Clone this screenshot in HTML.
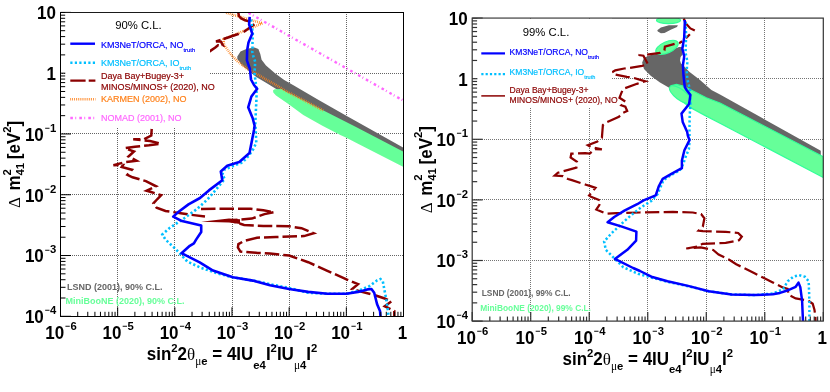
<!DOCTYPE html>
<html lang="en"><head><meta charset="utf-8"><title>Sterile neutrino sensitivity</title>
<style>html,body{margin:0;padding:0;background:#fff}body{width:830px;height:392px;overflow:hidden}svg{display:block}svg text{font-family:"Liberation Sans",sans-serif}</style></head><body>
<svg width="830" height="392" viewBox="0 0 830 392">
<rect x="0" y="0" width="830" height="392" fill="#fff"/>
<defs>
<clipPath id="cl"><rect x="60.5" y="12.4" width="343.0" height="303.90000000000003"/></clipPath>
<clipPath id="cr"><rect x="472.2" y="18.1" width="351.09999999999997" height="303.0"/></clipPath>
</defs>
<g id="left">
<g stroke="#646464" stroke-width="1" stroke-dasharray="1 1" fill="none" shape-rendering="crispEdges"><line x1="117.50" y1="12" x2="117.50" y2="316.3"/><line x1="174.50" y1="12" x2="174.50" y2="316.3"/><line x1="232.50" y1="12" x2="232.50" y2="316.3"/><line x1="289.50" y1="12" x2="289.50" y2="316.3"/><line x1="346.50" y1="12" x2="346.50" y2="316.3"/><line x1="60" y1="73.50" x2="403.5" y2="73.50"/><line x1="60" y1="133.50" x2="403.5" y2="133.50"/><line x1="60" y1="194.50" x2="403.5" y2="194.50"/><line x1="60" y1="255.50" x2="403.5" y2="255.50"/></g>
<g clip-path="url(#cl)">
<path d="M237.3 56.6 L240.5 51.5 L246.9 48.7 L254.5 47.4 L258.4 48.9 L260.3 54.0 L261.6 59.8 L266.0 65.5 L275.0 73.2 L284.2 80.0 L293.0 85.0 L318.2 99.7 L345.0 115.0 L403.5 147.8 L403.5 154.0 L360.0 130.0 L323.8 113.0 L290.0 97.0 L276.2 89.1 L266.0 82.7 L257.1 77.6 L248.2 70.6 L241.8 64.9 L237.3 59.1Z" fill="#666666"/>
<path d="M273.0 90.6 L274.6 89.2 L281.6 89.0 L285.5 91.3 L293.0 95.1 L323.0 110.3 L357.0 127.5 L403.5 151.8 L403.5 167.1 L357.0 143.3 L345.9 137.5 L340.3 134.9 L322.4 125.8 L303.3 115.0 L288.0 103.8 L276.0 95.5 L273.3 92.5Z" fill="#66ff99"/>
<path d="M226.1 12.8 L262.5 23.3 L223.6 39.2 L224.0 45.0 L231.6 55.3 L237.3 61.0 L246.9 68.7 L253.3 71.9 L266.0 79.5 L278.8 86.6 L285.5 90.8 L323.1 110.4" fill="none" stroke="#ff8019" stroke-width="2.6" stroke-dasharray="0.8 1.1"/>
<path d="M248.5 12.8 L403.5 100.7" fill="none" stroke="#ff66ff" stroke-width="2.4" stroke-dasharray="2.6 2.4 0.9 3.1"/>
<path d="M238.3 12.8 L239.0 16.0 L240.8 18.2 L245.0 20.3 L249.1 21.4 L254.5 24.2 L243.4 32.2 L238.3 34.0 L223.0 39.2 L216.0 41.4 L221.0 41.6 L223.0 45.6 L218.0 45.2 L215.3 47.5 L209.6 51.4 L200.0 58.0" fill="none" stroke="#8b0000" stroke-width="2.5" stroke-dasharray="15 6.2 13.3 5.2 16.2 3 14.5 4" stroke-linejoin="miter" stroke-miterlimit="4"/>
<path d="M151.9 127.5 L151.7 129.0 L151.3 135.5 L144.0 139.3 L133.2 139.3 L150.0 141.0 L160.6 143.6 L149.0 145.2 L135.0 146.8 L125.0 148.2 L134.0 151.5 L128.5 156.5 L136.4 160.7 L130.6 161.4 L125.5 162.0 L113.4 165.2 L123.0 165.0 L121.7 167.0 L131.9 169.7 L127.4 174.8 L132.5 177.3 L145.9 181.1 L156.1 186.3 L146.6 190.7 L151.0 192.0 L161.2 195.2 L157.4 199.0 L153.4 203.3 L156.6 207.8 L165.5 211.0 L180.8 213.2 L191.0 214.8 L205.0 216.5" fill="none" stroke="#8b0000" stroke-width="2.5" stroke-dasharray="14.5 4" stroke-dashoffset="-1.5" stroke-linejoin="miter" stroke-miterlimit="4"/>
<path d="M201.0 208.9 L250.5 208.8 L263.3 210.3 L274.1 212.2 L264.5 214.1 L251.8 218.6 L237.8 219.8 L229.5 220.4 L244.1 225.0 L263.3 225.9 L288.8 226.3 L301.5 228.2 L313.6 233.3 L304.0 236.1 L276.0 237.1 L256.9 237.7 L244.1 240.9 L238.4 244.1 L237.9 247.4 L240.4 251.6 L257.8 252.9 L270.0 253.6 L289.1 255.5 L308.2 262.2 L327.4 270.8 L346.5 279.4 L358.0 284.2 L352.2 289.0 L361.8 291.9 L373.3 294.7 L384.7 298.5 L391.4 301.4 L384.7 306.2 L394.3 311.0 L394.3 316.5" fill="none" stroke="#8b0000" stroke-width="2.5" stroke-dasharray="14.5 4" stroke-linejoin="miter" stroke-miterlimit="4"/>
<path d="M201 221.7 L229 218.5 L240 219.2 L240 224 L229 222.5Z" fill="#8b0000"/>
<path d="M251.0 19.5 L251.7 24.6 L252.8 33.5 L252.5 42.4 L252.5 47.5 L252.2 51.5 L253.5 57.0 L255.2 61.7 L254.5 73.2 L255.8 83.4 L256.5 90.0 L256.5 97.8 L255.9 110.5 L255.3 123.3 L255.9 133.8 L256.3 142.8 L253.3 149.1 L248.9 155.5 L242.5 162.5 L233.6 165.7 L224.6 169.5 L222.1 174.6 L224.8 178.9 L216.5 189.0 L207.6 199.3 L197.4 208.7 L184.6 218.0 L169.3 228.2 L162.3 234.5 L165.5 239.6 L174.9 248.3 L187.3 261.5 L199.7 267.3 L216.3 273.1 L232.9 277.3 L257.8 281.4 L270.0 284.2 L289.1 288.0 L308.2 292.8 L327.4 293.8 L346.5 293.8 L358.0 290.9 L369.4 286.1 L377.1 280.4 L380.5 279.0 L382.8 281.3 L385.7 296.6 L387.6 308.1 L388.6 316.5" fill="none" stroke="#00bfff" stroke-width="2.6" stroke-dasharray="2.2 2.3"/>
<path d="M249.7 16.9 L249.1 24.6 L252.3 33.5 L248.5 42.4 L247.2 50.0 L246.9 60.4 L250.0 69.3 L251.0 79.5 L254.0 85.0 L257.2 88.8 L251.4 96.5 L248.2 107.3 L252.7 118.2 L254.6 125.8 L254.0 130.0 L249.5 153.0 L239.3 161.9 L227.2 165.7 L220.8 171.5 L222.3 180.2 L208.9 190.4 L200.0 198.0 L188.5 204.4 L178.3 212.0 L173.2 216.6 L182.0 221.1 L201.2 225.6 L201.2 232.0 L196.1 239.6 L193.9 243.3 L189.8 245.8 L181.5 253.2 L199.7 262.4 L213.0 270.6 L232.9 277.3 L252.8 280.6 L270.0 285.2 L289.1 289.0 L308.2 291.9 L327.4 293.8 L346.5 293.8 L358.0 291.9 L367.5 289.4 L371.4 289.0 L374.2 292.8 L377.1 304.3 L380.0 311.0 L380.5 316.5" fill="none" stroke="#0000ff" stroke-width="2.6" stroke-linejoin="round"/>
</g>
<g stroke="#000" stroke-width="1" fill="none"><line x1="60.50" y1="316.3" x2="60.50" y2="307.30"/><line x1="77.71" y1="316.3" x2="77.71" y2="311.80"/><line x1="87.78" y1="316.3" x2="87.78" y2="311.80"/><line x1="94.92" y1="316.3" x2="94.92" y2="311.80"/><line x1="100.46" y1="316.3" x2="100.46" y2="311.80"/><line x1="104.98" y1="316.3" x2="104.98" y2="311.80"/><line x1="108.81" y1="316.3" x2="108.81" y2="311.80"/><line x1="112.13" y1="316.3" x2="112.13" y2="311.80"/><line x1="115.05" y1="316.3" x2="115.05" y2="311.80"/><line x1="117.67" y1="316.3" x2="117.67" y2="307.30"/><line x1="134.88" y1="316.3" x2="134.88" y2="311.80"/><line x1="144.94" y1="316.3" x2="144.94" y2="311.80"/><line x1="152.08" y1="316.3" x2="152.08" y2="311.80"/><line x1="157.62" y1="316.3" x2="157.62" y2="311.80"/><line x1="162.15" y1="316.3" x2="162.15" y2="311.80"/><line x1="165.98" y1="316.3" x2="165.98" y2="311.80"/><line x1="169.29" y1="316.3" x2="169.29" y2="311.80"/><line x1="172.22" y1="316.3" x2="172.22" y2="311.80"/><line x1="174.83" y1="316.3" x2="174.83" y2="307.30"/><line x1="192.04" y1="316.3" x2="192.04" y2="311.80"/><line x1="202.11" y1="316.3" x2="202.11" y2="311.80"/><line x1="209.25" y1="316.3" x2="209.25" y2="311.80"/><line x1="214.79" y1="316.3" x2="214.79" y2="311.80"/><line x1="219.32" y1="316.3" x2="219.32" y2="311.80"/><line x1="223.14" y1="316.3" x2="223.14" y2="311.80"/><line x1="226.46" y1="316.3" x2="226.46" y2="311.80"/><line x1="229.38" y1="316.3" x2="229.38" y2="311.80"/><line x1="232.00" y1="316.3" x2="232.00" y2="307.30"/><line x1="249.21" y1="316.3" x2="249.21" y2="311.80"/><line x1="259.28" y1="316.3" x2="259.28" y2="311.80"/><line x1="266.42" y1="316.3" x2="266.42" y2="311.80"/><line x1="271.96" y1="316.3" x2="271.96" y2="311.80"/><line x1="276.48" y1="316.3" x2="276.48" y2="311.80"/><line x1="280.31" y1="316.3" x2="280.31" y2="311.80"/><line x1="283.63" y1="316.3" x2="283.63" y2="311.80"/><line x1="286.55" y1="316.3" x2="286.55" y2="311.80"/><line x1="289.17" y1="316.3" x2="289.17" y2="307.30"/><line x1="306.38" y1="316.3" x2="306.38" y2="311.80"/><line x1="316.44" y1="316.3" x2="316.44" y2="311.80"/><line x1="323.58" y1="316.3" x2="323.58" y2="311.80"/><line x1="329.12" y1="316.3" x2="329.12" y2="311.80"/><line x1="333.65" y1="316.3" x2="333.65" y2="311.80"/><line x1="337.48" y1="316.3" x2="337.48" y2="311.80"/><line x1="340.79" y1="316.3" x2="340.79" y2="311.80"/><line x1="343.72" y1="316.3" x2="343.72" y2="311.80"/><line x1="346.33" y1="316.3" x2="346.33" y2="307.30"/><line x1="363.54" y1="316.3" x2="363.54" y2="311.80"/><line x1="373.61" y1="316.3" x2="373.61" y2="311.80"/><line x1="380.75" y1="316.3" x2="380.75" y2="311.80"/><line x1="386.29" y1="316.3" x2="386.29" y2="311.80"/><line x1="390.82" y1="316.3" x2="390.82" y2="311.80"/><line x1="394.64" y1="316.3" x2="394.64" y2="311.80"/><line x1="397.96" y1="316.3" x2="397.96" y2="311.80"/><line x1="400.88" y1="316.3" x2="400.88" y2="311.80"/><line x1="403.50" y1="316.3" x2="403.50" y2="307.30"/><line x1="60.5" y1="12.40" x2="71.00" y2="12.40"/><line x1="60.5" y1="54.88" x2="65.50" y2="54.88"/><line x1="60.5" y1="44.18" x2="65.50" y2="44.18"/><line x1="60.5" y1="36.59" x2="65.50" y2="36.59"/><line x1="60.5" y1="30.70" x2="65.50" y2="30.70"/><line x1="60.5" y1="25.88" x2="65.50" y2="25.88"/><line x1="60.5" y1="21.81" x2="65.50" y2="21.81"/><line x1="60.5" y1="18.29" x2="65.50" y2="18.29"/><line x1="60.5" y1="15.18" x2="65.50" y2="15.18"/><line x1="60.5" y1="73.18" x2="71.00" y2="73.18"/><line x1="60.5" y1="115.66" x2="65.50" y2="115.66"/><line x1="60.5" y1="104.96" x2="65.50" y2="104.96"/><line x1="60.5" y1="97.37" x2="65.50" y2="97.37"/><line x1="60.5" y1="91.48" x2="65.50" y2="91.48"/><line x1="60.5" y1="86.66" x2="65.50" y2="86.66"/><line x1="60.5" y1="82.59" x2="65.50" y2="82.59"/><line x1="60.5" y1="79.07" x2="65.50" y2="79.07"/><line x1="60.5" y1="75.96" x2="65.50" y2="75.96"/><line x1="60.5" y1="133.96" x2="71.00" y2="133.96"/><line x1="60.5" y1="176.44" x2="65.50" y2="176.44"/><line x1="60.5" y1="165.74" x2="65.50" y2="165.74"/><line x1="60.5" y1="158.15" x2="65.50" y2="158.15"/><line x1="60.5" y1="152.26" x2="65.50" y2="152.26"/><line x1="60.5" y1="147.44" x2="65.50" y2="147.44"/><line x1="60.5" y1="143.37" x2="65.50" y2="143.37"/><line x1="60.5" y1="139.85" x2="65.50" y2="139.85"/><line x1="60.5" y1="136.74" x2="65.50" y2="136.74"/><line x1="60.5" y1="194.74" x2="71.00" y2="194.74"/><line x1="60.5" y1="237.22" x2="65.50" y2="237.22"/><line x1="60.5" y1="226.52" x2="65.50" y2="226.52"/><line x1="60.5" y1="218.93" x2="65.50" y2="218.93"/><line x1="60.5" y1="213.04" x2="65.50" y2="213.04"/><line x1="60.5" y1="208.22" x2="65.50" y2="208.22"/><line x1="60.5" y1="204.15" x2="65.50" y2="204.15"/><line x1="60.5" y1="200.63" x2="65.50" y2="200.63"/><line x1="60.5" y1="197.52" x2="65.50" y2="197.52"/><line x1="60.5" y1="255.52" x2="71.00" y2="255.52"/><line x1="60.5" y1="298.00" x2="65.50" y2="298.00"/><line x1="60.5" y1="287.30" x2="65.50" y2="287.30"/><line x1="60.5" y1="279.71" x2="65.50" y2="279.71"/><line x1="60.5" y1="273.82" x2="65.50" y2="273.82"/><line x1="60.5" y1="269.00" x2="65.50" y2="269.00"/><line x1="60.5" y1="264.93" x2="65.50" y2="264.93"/><line x1="60.5" y1="261.41" x2="65.50" y2="261.41"/><line x1="60.5" y1="258.30" x2="65.50" y2="258.30"/><line x1="60.5" y1="316.30" x2="71.00" y2="316.30"/><rect x="60.5" y="12.5" width="343.0" height="304.0"/></g>
<rect x="65.3" y="12.9" width="144.7" height="114.8" fill="#fff"/>
<text x="115.2" y="28.8" font-size="11.3" fill="#000">90% C.L.</text>
<line x1="70.3" y1="43.7" x2="95" y2="43.7" stroke="#0000ff" stroke-width="2.4"/><text x="100.9" y="47.8" font-size="9" fill="#0000ff" stroke="#0000ff" stroke-width="0.18">KM3NeT/ORCA, NO<tspan font-size="5.9" dy="4.1">truth</tspan></text>
<line x1="70.3" y1="62.7" x2="95" y2="62.7" stroke="#00bfff" stroke-width="2.4" stroke-dasharray="2.2 2.3"/><text x="100.9" y="66.1" font-size="9" fill="#00bfff" stroke="#00bfff" stroke-width="0.18">KM3NeT/ORCA, IO<tspan font-size="5.9" dy="4.1">truth</tspan></text>
<line x1="70.3" y1="80.6" x2="95.4" y2="80.6" stroke="#8b0000" stroke-width="2.4" stroke-dasharray="15.3 3.1"/><text x="100.9" y="78.6" font-size="9" fill="#8b0000" stroke="#8b0000" stroke-width="0.18">Daya Bay+Bugey-3+</text><text x="100.9" y="89.6" font-size="9" fill="#8b0000" stroke="#8b0000" stroke-width="0.18">MINOS/MINOS+ (2020), NO</text>
<line x1="70.3" y1="99.2" x2="95.4" y2="99.2" stroke="#ff8019" stroke-width="2.4" stroke-dasharray="0.8 1.1"/><text x="100.9" y="102.4" font-size="9" fill="#ff8019" stroke="#ff8019" stroke-width="0.18">KARMEN (2002), NO</text>
<line x1="70.3" y1="118" x2="95.4" y2="118" stroke="#ff66ff" stroke-width="2.4" stroke-dasharray="2.6 2.4 0.9 3.1"/><text x="100.9" y="121.2" font-size="9" fill="#ff66ff" stroke="#ff66ff" stroke-width="0.18">NOMAD (2001), NO</text>
<text x="67.1" y="290.4" font-size="9" font-weight="bold" fill="#666666">LSND (2001), 90% C.L.</text>
<text x="65.5" y="304.3" font-size="9" font-weight="bold" fill="#66ff99">MiniBooNE (2020), 90% C.L.</text>
<g transform="translate(56.00,18.80) scale(1,1.04)"><text x="0" y="0" text-anchor="end" font-size="17.0" font-weight="bold">10</text></g><g transform="translate(56.00,80.08) scale(1,1.04)"><text x="0" y="0" text-anchor="end" font-size="17.0" font-weight="bold">1</text></g><g transform="translate(56.30,140.86) scale(1,1.04)"><text x="0" y="0" text-anchor="end" font-size="17.0" font-weight="bold">10<tspan font-size="8.6" dy="-9.5" dx="0.9">−</tspan><tspan font-size="11.3" dy="0.9" dx="0.3">1</tspan></text></g><g transform="translate(56.30,201.64) scale(1,1.04)"><text x="0" y="0" text-anchor="end" font-size="17.0" font-weight="bold">10<tspan font-size="8.6" dy="-9.5" dx="0.9">−</tspan><tspan font-size="11.3" dy="0.9" dx="0.3">2</tspan></text></g><g transform="translate(56.30,262.42) scale(1,1.04)"><text x="0" y="0" text-anchor="end" font-size="17.0" font-weight="bold">10<tspan font-size="8.6" dy="-9.5" dx="0.9">−</tspan><tspan font-size="11.3" dy="0.9" dx="0.3">3</tspan></text></g><g transform="translate(56.30,323.20) scale(1,1.04)"><text x="0" y="0" text-anchor="end" font-size="17.0" font-weight="bold">10<tspan font-size="8.6" dy="-9.5" dx="0.9">−</tspan><tspan font-size="11.3" dy="0.9" dx="0.3">4</tspan></text></g><g transform="translate(61.00,339.00) scale(1,1.04)"><text x="0" y="0" text-anchor="middle" font-size="17.0" font-weight="bold">10<tspan font-size="8.6" dy="-9.5" dx="0.9">−</tspan><tspan font-size="11.3" dy="0.9" dx="0.3">6</tspan></text></g><g transform="translate(118.17,339.00) scale(1,1.04)"><text x="0" y="0" text-anchor="middle" font-size="17.0" font-weight="bold">10<tspan font-size="8.6" dy="-9.5" dx="0.9">−</tspan><tspan font-size="11.3" dy="0.9" dx="0.3">5</tspan></text></g><g transform="translate(175.33,339.00) scale(1,1.04)"><text x="0" y="0" text-anchor="middle" font-size="17.0" font-weight="bold">10<tspan font-size="8.6" dy="-9.5" dx="0.9">−</tspan><tspan font-size="11.3" dy="0.9" dx="0.3">4</tspan></text></g><g transform="translate(232.50,339.00) scale(1,1.04)"><text x="0" y="0" text-anchor="middle" font-size="17.0" font-weight="bold">10<tspan font-size="8.6" dy="-9.5" dx="0.9">−</tspan><tspan font-size="11.3" dy="0.9" dx="0.3">3</tspan></text></g><g transform="translate(289.67,339.00) scale(1,1.04)"><text x="0" y="0" text-anchor="middle" font-size="17.0" font-weight="bold">10<tspan font-size="8.6" dy="-9.5" dx="0.9">−</tspan><tspan font-size="11.3" dy="0.9" dx="0.3">2</tspan></text></g><g transform="translate(346.83,339.00) scale(1,1.04)"><text x="0" y="0" text-anchor="middle" font-size="17.0" font-weight="bold">10<tspan font-size="8.6" dy="-9.5" dx="0.9">−</tspan><tspan font-size="11.3" dy="0.9" dx="0.3">1</tspan></text></g><g transform="translate(402.50,339.00) scale(1,1.04)"><text x="0" y="0" text-anchor="middle" font-size="17.0" font-weight="bold">1</text></g><g transform="translate(232.00,360.10) scale(1,1.04)"><text x="0" y="0" text-anchor="middle" font-size="17.0" font-weight="bold">sin<tspan font-size="11.3" dy="-7.69">2</tspan><tspan dy="7.69">2</tspan><tspan font-family="'Liberation Serif',serif" font-weight="normal">θ</tspan><tspan font-size="11.3" dy="4.71" font-family="'Liberation Serif',serif" font-weight="normal">μ</tspan><tspan font-size="11.3">e</tspan><tspan dy="-4.71"> = 4IU</tspan><tspan font-size="11.3" dy="8.08">e4</tspan><tspan dy="-8.08">I</tspan><tspan font-size="11.3" dy="-7.69">2</tspan><tspan dy="7.69">IU</tspan><tspan font-size="11.3" dy="8.08" font-family="'Liberation Serif',serif" font-weight="normal">μ</tspan><tspan font-size="11.3">4</tspan><tspan dy="-8.08">I</tspan><tspan font-size="11.3" dy="-7.69">2</tspan></text></g><g transform="translate(20.10,164.35) rotate(-90) scale(1,1.04)"><text x="0" y="0" text-anchor="middle" font-size="17.0" font-weight="bold"><tspan font-family="'Liberation Serif',serif" font-weight="normal">Δ</tspan><tspan dx="1.7"> m</tspan><tspan font-size="11.3" dy="-9">2</tspan><tspan font-size="11.3" dx="-6.3" dy="13.2">41</tspan><tspan dy="-4.2" dx="-0.9"> [eV</tspan><tspan font-size="11.3" dy="-9">2</tspan><tspan dy="9">]</tspan></text></g>
</g>
<g id="right">
<g stroke="#747474" stroke-width="1" stroke-dasharray="1 1" fill="none" shape-rendering="crispEdges"><line x1="530.50" y1="18" x2="530.50" y2="321.1"/><line x1="589.50" y1="18" x2="589.50" y2="321.1"/><line x1="647.50" y1="18" x2="647.50" y2="321.1"/><line x1="706.50" y1="18" x2="706.50" y2="321.1"/><line x1="764.50" y1="18" x2="764.50" y2="321.1"/><line x1="472" y1="78.50" x2="823.3" y2="78.50"/><line x1="472" y1="139.50" x2="823.3" y2="139.50"/><line x1="472" y1="199.50" x2="823.3" y2="199.50"/><line x1="472" y1="260.50" x2="823.3" y2="260.50"/></g>
<g clip-path="url(#cr)">
<path d="M657.3 30.2 L660.9 27.5 L668.9 25.3 L677.9 25.3 L677.0 27.0 L670.7 29.7 L664.5 32.9 L660.9 33.3 L657.8 31.5Z" fill="#666666"/>
<path d="M642.1 62.8 L644.0 57.7 L651.0 55.1 L660.0 53.2 L668.0 51.0 L676.5 48.0 L679.0 47.0 L682.2 47.0 L682.6 54.5 L680.6 57.0 L680.0 60.5 L681.0 63.5 L683.0 65.3 L689.3 71.7 L700.0 80.0 L711.4 90.0 L720.0 94.6 L820.8 150.7 L820.8 158.0 L700.0 96.0 L690.0 93.0 L670.0 88.3 L660.0 82.5 L651.0 76.1 L644.0 69.1Z" fill="#666666"/>
<ellipse cx="668.5" cy="20.3" rx="12" ry="3.3" fill="#66ff99" stroke="#33ff99" stroke-width="1.2"/>
<ellipse cx="667" cy="47.3" rx="12" ry="5.6" transform="rotate(-24 667 47.3)" fill="#66ff99" stroke="#33ff99" stroke-width="1.2"/>
<path d="M670.2 88.2 L671.5 85.5 L676.5 84.4 L684.2 86.4 L691.0 90.0 L706.3 97.7 L720.0 103.0 L823.3 156.8 L823.3 177.5 L740.0 133.7 L720.0 123.2 L706.3 116.1 L691.0 107.9 L675.7 96.4 L670.6 90.5Z" fill="#66ff99" stroke="#33ff99" stroke-width="1.2" stroke-linejoin="round"/>
<ellipse cx="680.3" cy="94.6" rx="13" ry="5.2" transform="rotate(37 680.3 94.6)" fill="#66ff99" stroke="#33ff99" stroke-width="1.2"/>
<path d="M683.7 18.6 L686.3 23.9 L690.4 28.4 L694.8 30.6 L689.9 34.2 L686.8 37.3 L681.4 41.8 L679.2 43.1 L674.7 43.8 L664.9 46.7 L664.4 50.3 L660.0 52.8 L647.2 54.7 L638.5 55.0 L643.4 55.7 L647.8 64.0 L642.1 65.9 L629.3 67.9 L624.2 68.5 L615.3 70.4 L612.1 72.3 L614.0 74.2 L626.8 76.8 L631.9 77.4 L645.3 81.3 L637.0 83.8 L623.0 88.9 L621.5 92.7 L619.5 97.7 L625.3 101.5 L621.4 105.3 L625.3 106.6 L627.2 111.0 L622.7 113.0 L618.9 116.8 L606.1 122.5 L602.9 125.1 L602.5 130.0 L601.9 137.7 L597.4 141.5 L587.8 145.3 L591.0 147.2 L601.9 149.4 L594.8 149.0 L589.7 153.6 L585.3 153.2 L571.3 153.6 L570.6 157.4 L577.0 161.9 L576.4 167.6 L571.9 168.9 L557.9 172.7 L554.7 175.5 L563.0 176.2 L568.0 179.0 L571.9 180.2 L585.9 184.7 L589.7 185.9 L595.5 187.9 L589.1 195.5 L591.0 196.8 L600.6 200.6 L599.3 205.1 L596.3 209.5 L606.5 213.8 L616.5 213.2 L639.8 212.5 L672.9 212.0 L692.8 212.5 L701.1 214.1 L704.4 218.3 L702.8 226.6 L698.6 230.7 L702.8 231.2 L725.7 231.8 L738.2 233.0 L741.8 236.6 L739.1 240.2 L725.7 242.9 L702.5 243.8 L697.8 246.5 L686.2 248.5 L700.7 247.3 L713.2 250.0 L718.6 254.5 L729.3 259.8 L736.2 264.2 L754.5 273.3 L772.8 282.5 L783.2 287.7 L787.7 288.8 L788.6 294.8 L795.7 298.4 L808.2 300.7 L812.7 303.8 L814.5 310.0 L815.4 316.8 L815.6 321.5" fill="none" stroke="#8b0000" stroke-width="2.25" stroke-dasharray="16.9 6.1 5.5 5 3.5 4.6 13.8 4.5 13.5 8.2 14.3 4.4 14.3 4.4 14.3 4.4 14.3 4.4 14.3 4.4 14.3 4.4 14.3 4.4 14.3 4.4 14.3 4.4 14.3 4.4 14.3 4.4 14.3 4.4 14.3 4.4 14.3 4.4 14.3 4.4 14.3 4.4 14.3 4.4 14.3 4.4 14.3 4.4 14.3 4.4 14.3 4.4 14.3 4.4 14.3 4.4 14.3 4.4 14.3 4.4 14.3 4.4 14.3 4.4 14.3 4.4 14.3 4.4 14.3 4.4 14.3 4.4 14.3 4.4 14.3 4.4 14.3 4.4 14.3 4.4 14.3 4.4 14.3 4.4 14.3 4.4 14.3 4.4 14.3 4.4 14.3 4.4 14.3 4.4 14.3 4.4 14.3 4.4 14.3 4.4 14.3 4.4 14.3 4.4 14.3 4.4 14.3 4.4 14.3 4.4 14.3 4.4 14.3 4.4 14.3 4.4 14.3 4.4 14.3 4.4 14.3 4.4 14.3 4.4 14.3 4.4 14.3 4.4 14.3 4.4 14.3 4.4 14.3 4.4 14.3 4.4 14.3 4.4 14.3 4.4 14.3 4.4 14.3 4.4 14.3 4.4 14.3 4.4 14.3 4.4" stroke-linejoin="miter" stroke-miterlimit="4"/>
<path d="M685.6 22.0 L686.1 35.0 L685.7 49.0 L685.5 52.6 L687.4 61.5 L686.7 70.4 L687.4 79.3 L689.9 89.5 L690.4 104.0 L689.7 115.5 L689.5 128.3 L689.5 141.4 L688.9 149.0 L685.7 156.7 L683.1 164.3 L680.0 170.1 L671.0 175.2 L663.4 180.3 L661.4 185.1 L657.6 194.0 L651.2 201.0 L641.0 207.4 L632.1 214.4 L624.8 220.8 L611.6 233.2 L604.1 241.5 L605.8 249.8 L614.9 258.9 L623.2 267.2 L638.1 273.8 L651.4 277.5 L667.5 281.8 L688.1 286.2 L708.7 291.2 L731.6 294.4 L754.5 295.1 L772.8 293.5 L783.1 289.3 L787.7 281.3 L793.4 276.7 L799.1 275.1 L804.8 276.7 L808.7 281.3 L809.4 300.8 L809.4 321.0" fill="none" stroke="#00bfff" stroke-width="2.5" stroke-dasharray="2.2 2.3"/>
<path d="M684.6 20.0 L684.8 22.8 L684.2 37.5 L682.3 49.0 L682.9 50.5 L684.2 56.4 L682.9 65.3 L683.5 75.5 L684.8 87.0 L686.6 90.0 L690.4 95.1 L689.1 104.0 L681.5 113.6 L682.7 121.9 L687.2 132.1 L687.8 135.5 L689.5 140.1 L684.4 150.3 L681.9 160.5 L681.9 168.2 L672.3 173.3 L662.7 178.8 L658.9 186.0 L655.7 195.3 L643.6 200.4 L637.2 204.2 L624.4 210.6 L614.2 217.0 L607.6 222.2 L621.9 226.6 L636.4 231.6 L636.1 240.7 L627.3 249.8 L614.9 258.9 L633.1 268.0 L640.0 271.0 L651.4 276.7 L667.5 281.3 L688.1 285.9 L708.7 291.2 L731.6 294.4 L754.5 295.1 L772.8 294.2 L780.0 292.9 L786.5 290.8 L795.7 286.8 L798.5 282.6 L800.3 287.1 L802.1 300.8 L803.0 321.5" fill="none" stroke="#0000ff" stroke-width="2.5" stroke-linejoin="round"/>
</g>
<g stroke="#333" stroke-width="1.2" fill="none"><line x1="472.20" y1="321.1" x2="472.20" y2="312.10"/><line x1="489.82" y1="321.1" x2="489.82" y2="316.60"/><line x1="500.12" y1="321.1" x2="500.12" y2="316.60"/><line x1="507.43" y1="321.1" x2="507.43" y2="316.60"/><line x1="513.10" y1="321.1" x2="513.10" y2="316.60"/><line x1="517.73" y1="321.1" x2="517.73" y2="316.60"/><line x1="521.65" y1="321.1" x2="521.65" y2="316.60"/><line x1="525.05" y1="321.1" x2="525.05" y2="316.60"/><line x1="528.04" y1="321.1" x2="528.04" y2="316.60"/><line x1="530.72" y1="321.1" x2="530.72" y2="312.10"/><line x1="548.33" y1="321.1" x2="548.33" y2="316.60"/><line x1="558.64" y1="321.1" x2="558.64" y2="316.60"/><line x1="565.95" y1="321.1" x2="565.95" y2="316.60"/><line x1="571.62" y1="321.1" x2="571.62" y2="316.60"/><line x1="576.25" y1="321.1" x2="576.25" y2="316.60"/><line x1="580.17" y1="321.1" x2="580.17" y2="316.60"/><line x1="583.56" y1="321.1" x2="583.56" y2="316.60"/><line x1="586.56" y1="321.1" x2="586.56" y2="316.60"/><line x1="589.23" y1="321.1" x2="589.23" y2="312.10"/><line x1="606.85" y1="321.1" x2="606.85" y2="316.60"/><line x1="617.15" y1="321.1" x2="617.15" y2="316.60"/><line x1="624.46" y1="321.1" x2="624.46" y2="316.60"/><line x1="630.13" y1="321.1" x2="630.13" y2="316.60"/><line x1="634.77" y1="321.1" x2="634.77" y2="316.60"/><line x1="638.69" y1="321.1" x2="638.69" y2="316.60"/><line x1="642.08" y1="321.1" x2="642.08" y2="316.60"/><line x1="645.07" y1="321.1" x2="645.07" y2="316.60"/><line x1="647.75" y1="321.1" x2="647.75" y2="312.10"/><line x1="665.37" y1="321.1" x2="665.37" y2="316.60"/><line x1="675.67" y1="321.1" x2="675.67" y2="316.60"/><line x1="682.98" y1="321.1" x2="682.98" y2="316.60"/><line x1="688.65" y1="321.1" x2="688.65" y2="316.60"/><line x1="693.28" y1="321.1" x2="693.28" y2="316.60"/><line x1="697.20" y1="321.1" x2="697.20" y2="316.60"/><line x1="700.60" y1="321.1" x2="700.60" y2="316.60"/><line x1="703.59" y1="321.1" x2="703.59" y2="316.60"/><line x1="706.27" y1="321.1" x2="706.27" y2="312.10"/><line x1="723.88" y1="321.1" x2="723.88" y2="316.60"/><line x1="734.19" y1="321.1" x2="734.19" y2="316.60"/><line x1="741.50" y1="321.1" x2="741.50" y2="316.60"/><line x1="747.17" y1="321.1" x2="747.17" y2="316.60"/><line x1="751.80" y1="321.1" x2="751.80" y2="316.60"/><line x1="755.72" y1="321.1" x2="755.72" y2="316.60"/><line x1="759.11" y1="321.1" x2="759.11" y2="316.60"/><line x1="762.11" y1="321.1" x2="762.11" y2="316.60"/><line x1="764.78" y1="321.1" x2="764.78" y2="312.10"/><line x1="782.40" y1="321.1" x2="782.40" y2="316.60"/><line x1="792.70" y1="321.1" x2="792.70" y2="316.60"/><line x1="800.01" y1="321.1" x2="800.01" y2="316.60"/><line x1="805.68" y1="321.1" x2="805.68" y2="316.60"/><line x1="810.32" y1="321.1" x2="810.32" y2="316.60"/><line x1="814.24" y1="321.1" x2="814.24" y2="316.60"/><line x1="817.63" y1="321.1" x2="817.63" y2="316.60"/><line x1="820.62" y1="321.1" x2="820.62" y2="316.60"/><line x1="823.30" y1="321.1" x2="823.30" y2="312.10"/><line x1="472.2" y1="18.10" x2="482.70" y2="18.10"/><line x1="472.2" y1="60.46" x2="477.20" y2="60.46"/><line x1="472.2" y1="49.79" x2="477.20" y2="49.79"/><line x1="472.2" y1="42.22" x2="477.20" y2="42.22"/><line x1="472.2" y1="36.34" x2="477.20" y2="36.34"/><line x1="472.2" y1="31.54" x2="477.20" y2="31.54"/><line x1="472.2" y1="27.49" x2="477.20" y2="27.49"/><line x1="472.2" y1="23.97" x2="477.20" y2="23.97"/><line x1="472.2" y1="20.87" x2="477.20" y2="20.87"/><line x1="472.2" y1="78.70" x2="482.70" y2="78.70"/><line x1="472.2" y1="121.06" x2="477.20" y2="121.06"/><line x1="472.2" y1="110.39" x2="477.20" y2="110.39"/><line x1="472.2" y1="102.82" x2="477.20" y2="102.82"/><line x1="472.2" y1="96.94" x2="477.20" y2="96.94"/><line x1="472.2" y1="92.14" x2="477.20" y2="92.14"/><line x1="472.2" y1="88.09" x2="477.20" y2="88.09"/><line x1="472.2" y1="84.57" x2="477.20" y2="84.57"/><line x1="472.2" y1="81.47" x2="477.20" y2="81.47"/><line x1="472.2" y1="139.30" x2="482.70" y2="139.30"/><line x1="472.2" y1="181.66" x2="477.20" y2="181.66"/><line x1="472.2" y1="170.99" x2="477.20" y2="170.99"/><line x1="472.2" y1="163.42" x2="477.20" y2="163.42"/><line x1="472.2" y1="157.54" x2="477.20" y2="157.54"/><line x1="472.2" y1="152.74" x2="477.20" y2="152.74"/><line x1="472.2" y1="148.69" x2="477.20" y2="148.69"/><line x1="472.2" y1="145.17" x2="477.20" y2="145.17"/><line x1="472.2" y1="142.07" x2="477.20" y2="142.07"/><line x1="472.2" y1="199.90" x2="482.70" y2="199.90"/><line x1="472.2" y1="242.26" x2="477.20" y2="242.26"/><line x1="472.2" y1="231.59" x2="477.20" y2="231.59"/><line x1="472.2" y1="224.02" x2="477.20" y2="224.02"/><line x1="472.2" y1="218.14" x2="477.20" y2="218.14"/><line x1="472.2" y1="213.34" x2="477.20" y2="213.34"/><line x1="472.2" y1="209.29" x2="477.20" y2="209.29"/><line x1="472.2" y1="205.77" x2="477.20" y2="205.77"/><line x1="472.2" y1="202.67" x2="477.20" y2="202.67"/><line x1="472.2" y1="260.50" x2="482.70" y2="260.50"/><line x1="472.2" y1="302.86" x2="477.20" y2="302.86"/><line x1="472.2" y1="292.19" x2="477.20" y2="292.19"/><line x1="472.2" y1="284.62" x2="477.20" y2="284.62"/><line x1="472.2" y1="278.74" x2="477.20" y2="278.74"/><line x1="472.2" y1="273.94" x2="477.20" y2="273.94"/><line x1="472.2" y1="269.89" x2="477.20" y2="269.89"/><line x1="472.2" y1="266.37" x2="477.20" y2="266.37"/><line x1="472.2" y1="263.27" x2="477.20" y2="263.27"/><line x1="472.2" y1="321.10" x2="482.70" y2="321.10"/><rect x="472.2" y="18.1" width="351.09999999999997" height="303.0"/></g>
<rect x="477.4" y="18.900000000000002" width="134.60000000000002" height="88.50000000000001" fill="#fff"/>
<text x="522.8" y="36.3" font-size="11.3" fill="#000">99% C.L.</text>
<line x1="481.3" y1="53.4" x2="505" y2="53.4" stroke="#0000ff" stroke-width="2.2"/><text x="509.6" y="54.6" font-size="8.55" fill="#0000ff" stroke="#0000ff" stroke-width="0.18">KM3NeT/ORCA, NO<tspan font-size="5.6" dy="4.1">truth</tspan></text>
<line x1="481.3" y1="74.1" x2="505" y2="74.1" stroke="#00bfff" stroke-width="2.2" stroke-dasharray="2.2 2.1"/><text x="509.6" y="75.3" font-size="8.55" fill="#00bfff" stroke="#00bfff" stroke-width="0.18">KM3NeT/ORCA, IO<tspan font-size="5.6" dy="4.1">truth</tspan></text>
<line x1="481.3" y1="95.9" x2="505" y2="95.9" stroke="#8b0000" stroke-width="1.5"/><text x="509.6" y="93.0" font-size="8.55" fill="#8b0000" stroke="#8b0000" stroke-width="0.18">Daya Bay+Bugey-3+</text><text x="509.6" y="103.3" font-size="8.55" fill="#8b0000" stroke="#8b0000" stroke-width="0.18">MINOS/MINOS+ (2020), NO</text>
<text x="481.7" y="296.0" font-size="8.4" font-weight="bold" fill="#666666">LSND (2001), 99% C.L.</text>
<text x="480.2" y="311.1" font-size="8.4" font-weight="bold" fill="#66ff99">MiniBooNE (2020), 99% C.L.</text>
<g transform="translate(467.70,24.50) scale(1,1.04)"><text x="0" y="0" text-anchor="end" font-size="17.0" font-weight="bold">10</text></g><g transform="translate(467.70,85.60) scale(1,1.04)"><text x="0" y="0" text-anchor="end" font-size="17.0" font-weight="bold">1</text></g><g transform="translate(468.00,146.20) scale(1,1.04)"><text x="0" y="0" text-anchor="end" font-size="17.0" font-weight="bold">10<tspan font-size="8.6" dy="-9.5" dx="0.9">−</tspan><tspan font-size="11.3" dy="0.9" dx="0.3">1</tspan></text></g><g transform="translate(468.00,206.80) scale(1,1.04)"><text x="0" y="0" text-anchor="end" font-size="17.0" font-weight="bold">10<tspan font-size="8.6" dy="-9.5" dx="0.9">−</tspan><tspan font-size="11.3" dy="0.9" dx="0.3">2</tspan></text></g><g transform="translate(468.00,267.40) scale(1,1.04)"><text x="0" y="0" text-anchor="end" font-size="17.0" font-weight="bold">10<tspan font-size="8.6" dy="-9.5" dx="0.9">−</tspan><tspan font-size="11.3" dy="0.9" dx="0.3">3</tspan></text></g><g transform="translate(468.00,328.00) scale(1,1.04)"><text x="0" y="0" text-anchor="end" font-size="17.0" font-weight="bold">10<tspan font-size="8.6" dy="-9.5" dx="0.9">−</tspan><tspan font-size="11.3" dy="0.9" dx="0.3">4</tspan></text></g><g transform="translate(472.70,343.80) scale(1,1.04)"><text x="0" y="0" text-anchor="middle" font-size="17.0" font-weight="bold">10<tspan font-size="8.6" dy="-9.5" dx="0.9">−</tspan><tspan font-size="11.3" dy="0.9" dx="0.3">6</tspan></text></g><g transform="translate(531.22,343.80) scale(1,1.04)"><text x="0" y="0" text-anchor="middle" font-size="17.0" font-weight="bold">10<tspan font-size="8.6" dy="-9.5" dx="0.9">−</tspan><tspan font-size="11.3" dy="0.9" dx="0.3">5</tspan></text></g><g transform="translate(589.73,343.80) scale(1,1.04)"><text x="0" y="0" text-anchor="middle" font-size="17.0" font-weight="bold">10<tspan font-size="8.6" dy="-9.5" dx="0.9">−</tspan><tspan font-size="11.3" dy="0.9" dx="0.3">4</tspan></text></g><g transform="translate(648.25,343.80) scale(1,1.04)"><text x="0" y="0" text-anchor="middle" font-size="17.0" font-weight="bold">10<tspan font-size="8.6" dy="-9.5" dx="0.9">−</tspan><tspan font-size="11.3" dy="0.9" dx="0.3">3</tspan></text></g><g transform="translate(706.77,343.80) scale(1,1.04)"><text x="0" y="0" text-anchor="middle" font-size="17.0" font-weight="bold">10<tspan font-size="8.6" dy="-9.5" dx="0.9">−</tspan><tspan font-size="11.3" dy="0.9" dx="0.3">2</tspan></text></g><g transform="translate(765.28,343.80) scale(1,1.04)"><text x="0" y="0" text-anchor="middle" font-size="17.0" font-weight="bold">10<tspan font-size="8.6" dy="-9.5" dx="0.9">−</tspan><tspan font-size="11.3" dy="0.9" dx="0.3">1</tspan></text></g><g transform="translate(822.30,343.80) scale(1,1.04)"><text x="0" y="0" text-anchor="middle" font-size="17.0" font-weight="bold">1</text></g><g transform="translate(647.75,364.90) scale(1,1.04)"><text x="0" y="0" text-anchor="middle" font-size="17.0" font-weight="bold">sin<tspan font-size="11.3" dy="-7.69">2</tspan><tspan dy="7.69">2</tspan><tspan font-family="'Liberation Serif',serif" font-weight="normal">θ</tspan><tspan font-size="11.3" dy="4.71" font-family="'Liberation Serif',serif" font-weight="normal">μ</tspan><tspan font-size="11.3">e</tspan><tspan dy="-4.71"> = 4IU</tspan><tspan font-size="11.3" dy="8.08">e4</tspan><tspan dy="-8.08">I</tspan><tspan font-size="11.3" dy="-7.69">2</tspan><tspan dy="7.69">IU</tspan><tspan font-size="11.3" dy="8.08" font-family="'Liberation Serif',serif" font-weight="normal">μ</tspan><tspan font-size="11.3">4</tspan><tspan dy="-8.08">I</tspan><tspan font-size="11.3" dy="-7.69">2</tspan></text></g><g transform="translate(431.80,169.60) rotate(-90) scale(1,1.04)"><text x="0" y="0" text-anchor="middle" font-size="17.0" font-weight="bold"><tspan font-family="'Liberation Serif',serif" font-weight="normal">Δ</tspan><tspan dx="1.7"> m</tspan><tspan font-size="11.3" dy="-9">2</tspan><tspan font-size="11.3" dx="-6.3" dy="13.2">41</tspan><tspan dy="-4.2" dx="-0.9"> [eV</tspan><tspan font-size="11.3" dy="-9">2</tspan><tspan dy="9">]</tspan></text></g>
</g>
</svg></body></html>
